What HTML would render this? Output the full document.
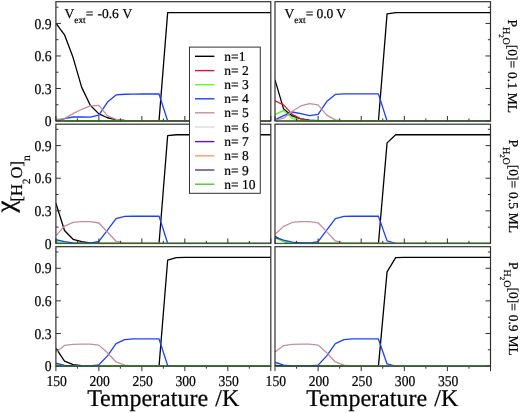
<!DOCTYPE html>
<html><head><meta charset="utf-8"><title>Water cluster fractions vs temperature</title>
<style>html,body{margin:0;padding:0;background:#fff}svg{display:block;filter:blur(0.35px)}text{font-family:"Liberation Serif","DejaVu Serif",serif;fill:#000;stroke:#000;stroke-width:0.22px;text-rendering:geometricPrecision}</style>
</head><body>
<svg width="520" height="413" viewBox="0 0 520 413">
<rect x="0" y="0" width="520" height="413" fill="#ffffff"/>
<g>
<clipPath id="cp00"><rect x="55.9" y="1.7" width="214.9" height="120.3"/></clipPath>
<g clip-path="url(#cp00)" fill="none" stroke-linejoin="round" stroke-width="1.3">
<polyline stroke="#000000" points="55.9,23.11 64.5,34.82 73.09,57.59 81.69,87.4 90.28,105.17 98.88,113.85 107.48,117.75 116.07,119.59 124.67,120.35 133.26,120.57 141.86,120.67 150.46,120.67 159.05,120.67 167.65,12.6 176.24,12.6 184.84,12.6 193.44,12.6 202.03,12.6 210.63,12.6 219.22,12.6 227.82,12.6 236.42,12.6 245.01,12.6 253.61,12.6 262.2,12.6 270.8,12.6"/>
<polyline stroke="#d4183a" points="55.9,119.37 64.5,120.46 73.09,121 81.69,121 90.28,121 98.88,121 107.48,121 116.07,121 124.67,121 133.26,121 141.86,121 150.46,121 159.05,121 167.65,121 176.24,121 184.84,121 193.44,121 202.03,121 210.63,121 219.22,121 227.82,121 236.42,121 245.01,121 253.61,121 262.2,121 270.8,121"/>
<polyline stroke="#64f832" stroke-width="1.6" points="55.9,119.7 64.5,120.57 73.09,121 81.69,121 90.28,121 98.88,121 107.48,121 116.07,121 124.67,121 133.26,121 141.86,121 150.46,121 159.05,121 167.65,121 176.24,121 184.84,121 193.44,121 202.03,121 210.63,121 219.22,121 227.82,121 236.42,121 245.01,121 253.61,121 262.2,121 270.8,121"/>
<polyline stroke="#2040f4" points="55.9,120.57 64.5,118.62 73.09,116.99 81.69,116.99 90.28,117.1 98.88,115.04 107.48,102.03 116.07,94.88 124.67,94.23 133.26,94.12 141.86,94.01 150.46,94.01 159.05,94.01 167.65,121 176.24,121 184.84,121 193.44,121 202.03,121 210.63,121 219.22,121 227.82,121 236.42,121 245.01,121 253.61,121 262.2,121 270.8,121"/>
<polyline stroke="#c08fa0" points="55.9,119.7 64.5,118.62 73.09,113.63 81.69,109.29 90.28,105.93 98.88,105.44 107.48,115.91 116.07,119.37 124.67,120.57 133.26,121 141.86,121 150.46,121 159.05,121 167.65,121 176.24,121 184.84,121 193.44,121 202.03,121 210.63,121 219.22,121 227.82,121 236.42,121 245.01,121 253.61,121 262.2,121 270.8,121"/>
</g>
<g stroke="#303030" stroke-width="1.2" fill="none">
<rect x="55.9" y="1.7" width="214.9" height="119.3"/>
<path stroke-width="1" d="M55.9 121v-5M77.39 121v-2.6M98.88 121v-5M120.37 121v-2.6M141.86 121v-5M163.35 121v-2.6M184.84 121v-5M206.33 121v-2.6M227.82 121v-5M249.31 121v-2.6M270.8 121v-5M55.9 121h5M55.9 104.74h2.6M55.9 88.48h5M55.9 72.22h2.6M55.9 55.96h5M55.9 39.7h2.6M55.9 23.44h5M55.9 7.18h2.6"/>
</g>
<line x1="56.9" y1="121" x2="270.3" y2="121" stroke="#34682a" stroke-width="1.1"/>
</g>
<g>
<clipPath id="cp01"><rect x="275" y="1.7" width="215.5" height="120.3"/></clipPath>
<g clip-path="url(#cp01)" fill="none" stroke-linejoin="round" stroke-width="1.3">
<polyline stroke="#000000" points="275,79.81 283.62,109.08 292.24,115.91 300.86,118.94 309.48,120.13 318.1,120.67 326.72,120.89 335.34,121 343.96,121 352.58,121 361.2,121 369.82,121 378.44,121 387.06,13.9 395.68,12.6 404.3,12.6 412.92,12.6 421.54,12.6 430.16,12.6 438.78,12.6 447.4,12.6 456.02,12.6 464.64,12.6 473.26,12.6 481.88,12.6 490.5,12.6"/>
<polyline stroke="#d4183a" points="275,100.84 283.62,104.85 292.24,114.39 300.86,118.83 309.48,120.46 318.1,121 326.72,121 335.34,121 343.96,121 352.58,121 361.2,121 369.82,121 378.44,121 387.06,121 395.68,121 404.3,121 412.92,121 421.54,121 430.16,121 438.78,121 447.4,121 456.02,121 464.64,121 473.26,121 481.88,121 490.5,121"/>
<polyline stroke="#64f832" stroke-width="1.6" points="275,114.6 283.62,110.49 292.24,118.18 300.86,120.67 309.48,121 318.1,121 326.72,121 335.34,121 343.96,121 352.58,121 361.2,121 369.82,121 378.44,121 387.06,121 395.68,121 404.3,121 412.92,121 421.54,121 430.16,121 438.78,121 447.4,121 456.02,121 464.64,121 473.26,121 481.88,121 490.5,121"/>
<polyline stroke="#2040f4" points="275,119.81 283.62,115.58 292.24,112 300.86,113.63 309.48,115.58 318.1,114.39 326.72,101.6 335.34,94.44 343.96,93.9 352.58,93.9 361.2,93.9 369.82,93.9 378.44,93.9 387.06,121 395.68,121 404.3,121 412.92,121 421.54,121 430.16,121 438.78,121 447.4,121 456.02,121 464.64,121 473.26,121 481.88,121 490.5,121"/>
<polyline stroke="#c08fa0" points="275,120.13 283.62,118.18 292.24,111.24 300.86,105.93 309.48,103.66 318.1,104.85 326.72,115.15 335.34,119.81 343.96,120.78 352.58,121 361.2,121 369.82,121 378.44,121 387.06,121 395.68,121 404.3,121 412.92,121 421.54,121 430.16,121 438.78,121 447.4,121 456.02,121 464.64,121 473.26,121 481.88,121 490.5,121"/>
</g>
<g stroke="#303030" stroke-width="1.2" fill="none">
<rect x="275" y="1.7" width="215.5" height="119.3"/>
<path stroke-width="1" d="M275 121v-5M296.55 121v-2.6M318.1 121v-5M339.65 121v-2.6M361.2 121v-5M382.75 121v-2.6M404.3 121v-5M425.85 121v-2.6M447.4 121v-5M468.95 121v-2.6M490.5 121v-5M490.5 121h-5M490.5 104.74h-2.6M490.5 88.48h-5M490.5 72.22h-2.6M490.5 55.96h-5M490.5 39.7h-2.6M490.5 23.44h-5M490.5 7.18h-2.6"/>
</g>
<line x1="276" y1="121" x2="490" y2="121" stroke="#34682a" stroke-width="1.1"/>
</g>
<g>
<clipPath id="cp10"><rect x="55.9" y="124.2" width="214.9" height="120.25"/></clipPath>
<g clip-path="url(#cp10)" fill="none" stroke-linejoin="round" stroke-width="1.3">
<polyline stroke="#000000" points="55.9,203.23 64.5,230.51 73.09,239.32 81.69,241.71 90.28,242.8 98.88,243.23 107.48,243.45 116.07,243.45 124.67,243.45 133.26,243.45 141.86,243.45 150.46,243.45 159.05,243.45 167.65,135.62 176.24,134.75 184.84,134.75 193.44,134.75 202.03,134.75 210.63,134.75 219.22,134.75 227.82,134.75 236.42,134.75 245.01,134.75 253.61,134.75 262.2,134.75 270.8,134.75"/>
<polyline stroke="#d4183a" points="55.9,242.15 64.5,243.12 73.09,243.45 81.69,243.45 90.28,243.45 98.88,243.45 107.48,243.45 116.07,243.45 124.67,243.45 133.26,243.45 141.86,243.45 150.46,243.45 159.05,243.45 167.65,243.45 176.24,243.45 184.84,243.45 193.44,243.45 202.03,243.45 210.63,243.45 219.22,243.45 227.82,243.45 236.42,243.45 245.01,243.45 253.61,243.45 262.2,243.45 270.8,243.45"/>
<polyline stroke="#64f832" stroke-width="1.6" points="55.9,242.15 64.5,243.12 73.09,243.45 81.69,243.45 90.28,243.45 98.88,243.45 107.48,243.45 116.07,243.45 124.67,243.45 133.26,243.45 141.86,243.45 150.46,243.45 159.05,243.45 167.65,243.45 176.24,243.45 184.84,243.45 193.44,243.45 202.03,243.45 210.63,243.45 219.22,243.45 227.82,243.45 236.42,243.45 245.01,243.45 253.61,243.45 262.2,243.45 270.8,243.45"/>
<polyline stroke="#2040f4" points="55.9,239.75 64.5,241.71 73.09,242.8 81.69,243.12 90.28,243.12 98.88,241.28 107.48,230.08 116.07,218.56 124.67,216.38 133.26,216.27 141.86,216.27 150.46,216.27 159.05,216.27 167.65,243.23 176.24,243.45 184.84,243.45 193.44,243.45 202.03,243.45 210.63,243.45 219.22,243.45 227.82,243.45 236.42,243.45 245.01,243.45 253.61,243.45 262.2,243.45 270.8,243.45"/>
<polyline stroke="#c08fa0" points="55.9,235.62 64.5,226.17 73.09,222.47 81.69,221.71 90.28,221.71 98.88,223.01 107.48,232.04 116.07,241.28 124.67,242.91 133.26,243.45 141.86,243.45 150.46,243.45 159.05,243.45 167.65,243.45 176.24,243.45 184.84,243.45 193.44,243.45 202.03,243.45 210.63,243.45 219.22,243.45 227.82,243.45 236.42,243.45 245.01,243.45 253.61,243.45 262.2,243.45 270.8,243.45"/>
</g>
<g stroke="#303030" stroke-width="1.2" fill="none">
<rect x="55.9" y="124.2" width="214.9" height="119.25"/>
<path stroke-width="1" d="M55.9 243.45v-5M77.39 243.45v-2.6M98.88 243.45v-5M120.37 243.45v-2.6M141.86 243.45v-5M163.35 243.45v-2.6M184.84 243.45v-5M206.33 243.45v-2.6M227.82 243.45v-5M249.31 243.45v-2.6M270.8 243.45v-5M55.9 243.45h5M55.9 227.14h2.6M55.9 210.84h5M55.9 194.53h2.6M55.9 178.23h5M55.9 161.92h2.6M55.9 145.62h5M55.9 129.31h2.6"/>
</g>
<line x1="56.9" y1="243.45" x2="270.3" y2="243.45" stroke="#34682a" stroke-width="1.1"/>
</g>
<g>
<clipPath id="cp11"><rect x="275" y="124.2" width="215.5" height="120.25"/></clipPath>
<g clip-path="url(#cp11)" fill="none" stroke-linejoin="round" stroke-width="1.3">
<polyline stroke="#000000" points="275,236.38 283.62,241.28 292.24,242.8 300.86,243.23 309.48,243.45 318.1,243.45 326.72,243.45 335.34,243.45 343.96,243.45 352.58,243.45 361.2,243.45 369.82,243.45 378.44,243.45 387.06,142.9 395.68,134.75 404.3,134.75 412.92,134.75 421.54,134.75 430.16,134.75 438.78,134.75 447.4,134.75 456.02,134.75 464.64,134.75 473.26,134.75 481.88,134.75 490.5,134.75"/>
<polyline stroke="#d4183a" points="275,236.93 283.62,241.28 292.24,242.91 300.86,243.45 309.48,243.45 318.1,243.45 326.72,243.45 335.34,243.45 343.96,243.45 352.58,243.45 361.2,243.45 369.82,243.45 378.44,243.45 387.06,243.45 395.68,243.45 404.3,243.45 412.92,243.45 421.54,243.45 430.16,243.45 438.78,243.45 447.4,243.45 456.02,243.45 464.64,243.45 473.26,243.45 481.88,243.45 490.5,243.45"/>
<polyline stroke="#64f832" stroke-width="1.6" points="275,238.01 283.62,241.28 292.24,243.02 300.86,243.45 309.48,243.45 318.1,243.45 326.72,243.45 335.34,243.45 343.96,243.45 352.58,243.45 361.2,243.45 369.82,243.45 378.44,243.45 387.06,243.45 395.68,243.45 404.3,243.45 412.92,243.45 421.54,243.45 430.16,243.45 438.78,243.45 447.4,243.45 456.02,243.45 464.64,243.45 473.26,243.45 481.88,243.45 490.5,243.45"/>
<polyline stroke="#2040f4" points="275,237.47 283.62,240.19 292.24,242.04 300.86,243.02 309.48,243.02 318.1,241.71 326.72,230.08 335.34,218.56 343.96,216.38 352.58,216.27 361.2,216.27 369.82,216.27 378.44,216.22 387.06,240.84 395.68,243.45 404.3,243.45 412.92,243.45 421.54,243.45 430.16,243.45 438.78,243.45 447.4,243.45 456.02,243.45 464.64,243.45 473.26,243.45 481.88,243.45 490.5,243.45"/>
<polyline stroke="#c08fa0" points="275,234.43 283.62,226.38 292.24,222.47 300.86,221.6 309.48,221.71 318.1,222.8 326.72,231.6 335.34,240.95 343.96,242.91 352.58,243.45 361.2,243.45 369.82,243.45 378.44,243.45 387.06,243.45 395.68,243.45 404.3,243.45 412.92,243.45 421.54,243.45 430.16,243.45 438.78,243.45 447.4,243.45 456.02,243.45 464.64,243.45 473.26,243.45 481.88,243.45 490.5,243.45"/>
</g>
<g stroke="#303030" stroke-width="1.2" fill="none">
<rect x="275" y="124.2" width="215.5" height="119.25"/>
<path stroke-width="1" d="M275 243.45v-5M296.55 243.45v-2.6M318.1 243.45v-5M339.65 243.45v-2.6M361.2 243.45v-5M382.75 243.45v-2.6M404.3 243.45v-5M425.85 243.45v-2.6M447.4 243.45v-5M468.95 243.45v-2.6M490.5 243.45v-5M490.5 243.45h-5M490.5 227.14h-2.6M490.5 210.84h-5M490.5 194.53h-2.6M490.5 178.23h-5M490.5 161.92h-2.6M490.5 145.62h-5M490.5 129.31h-2.6"/>
</g>
<line x1="276" y1="243.45" x2="490" y2="243.45" stroke="#34682a" stroke-width="1.1"/>
</g>
<g>
<clipPath id="cp20"><rect x="55.9" y="246.7" width="214.9" height="120.4"/></clipPath>
<g clip-path="url(#cp20)" fill="none" stroke-linejoin="round" stroke-width="1.3">
<polyline stroke="#000000" points="55.9,348.16 64.5,361.15 73.09,364.58 81.69,365.56 90.28,365.99 98.88,366.1 107.48,366.1 116.07,366.1 124.67,366.1 133.26,366.1 141.86,366.1 150.46,366.1 159.05,366.1 167.65,260.23 176.24,257.62 184.84,257.4 193.44,257.4 202.03,257.4 210.63,257.4 219.22,257.4 227.82,257.4 236.42,257.4 245.01,257.4 253.61,257.4 262.2,257.4 270.8,257.4"/>
<polyline stroke="#d4183a" points="55.9,365.23 64.5,365.88 73.09,366.1 81.69,366.1 90.28,366.1 98.88,366.1 107.48,366.1 116.07,366.1 124.67,366.1 133.26,366.1 141.86,366.1 150.46,366.1 159.05,366.1 167.65,366.1 176.24,366.1 184.84,366.1 193.44,366.1 202.03,366.1 210.63,366.1 219.22,366.1 227.82,366.1 236.42,366.1 245.01,366.1 253.61,366.1 262.2,366.1 270.8,366.1"/>
<polyline stroke="#64f832" stroke-width="1.6" points="55.9,365.23 64.5,365.88 73.09,366.1 81.69,366.1 90.28,366.1 98.88,366.1 107.48,366.1 116.07,366.1 124.67,366.1 133.26,366.1 141.86,366.1 150.46,366.1 159.05,366.1 167.65,366.1 176.24,366.1 184.84,366.1 193.44,366.1 202.03,366.1 210.63,366.1 219.22,366.1 227.82,366.1 236.42,366.1 245.01,366.1 253.61,366.1 262.2,366.1 270.8,366.1"/>
<polyline stroke="#2040f4" points="55.9,363.06 64.5,365.34 73.09,365.88 81.69,365.99 90.28,365.88 98.88,364.8 107.48,355.88 116.07,343.6 124.67,339.69 133.26,338.93 141.86,338.93 150.46,338.93 159.05,338.93 167.65,365.56 176.24,366.1 184.84,366.1 193.44,366.1 202.03,366.1 210.63,366.1 219.22,366.1 227.82,366.1 236.42,366.1 245.01,366.1 253.61,366.1 262.2,366.1 270.8,366.1"/>
<polyline stroke="#c08fa0" points="55.9,352.3 64.5,345.45 73.09,344.36 81.69,344.14 90.28,344.14 98.88,345.12 107.48,352.73 116.07,361.97 124.67,365.12 133.26,366.1 141.86,366.1 150.46,366.1 159.05,366.1 167.65,366.1 176.24,366.1 184.84,366.1 193.44,366.1 202.03,366.1 210.63,366.1 219.22,366.1 227.82,366.1 236.42,366.1 245.01,366.1 253.61,366.1 262.2,366.1 270.8,366.1"/>
</g>
<g stroke="#303030" stroke-width="1.2" fill="none">
<rect x="55.9" y="246.7" width="214.9" height="119.4"/>
<path stroke-width="1" d="M55.9 366.1v5M77.39 366.1v2.6M98.88 366.1v5M120.37 366.1v2.6M141.86 366.1v5M163.35 366.1v2.6M184.84 366.1v5M206.33 366.1v2.6M227.82 366.1v5M249.31 366.1v2.6M270.8 366.1v5M55.9 366.1h5M55.9 349.8h2.6M55.9 333.49h5M55.9 317.19h2.6M55.9 300.88h5M55.9 284.58h2.6M55.9 268.27h5M55.9 251.97h2.6"/>
</g>
<line x1="56.9" y1="366.1" x2="270.3" y2="366.1" stroke="#34682a" stroke-width="1.1"/>
</g>
<g>
<clipPath id="cp21"><rect x="275" y="246.7" width="215.5" height="120.4"/></clipPath>
<g clip-path="url(#cp21)" fill="none" stroke-linejoin="round" stroke-width="1.3">
<polyline stroke="#000000" points="275,365.45 283.62,365.88 292.24,366.1 300.86,366.1 309.48,366.1 318.1,366.1 326.72,366.1 335.34,366.1 343.96,366.1 352.58,366.1 361.2,366.1 369.82,366.1 378.44,366.1 387.06,271.86 395.68,257.62 404.3,257.4 412.92,257.4 421.54,257.4 430.16,257.4 438.78,257.4 447.4,257.4 456.02,257.4 464.64,257.4 473.26,257.4 481.88,257.4 490.5,257.4"/>
<polyline stroke="#2040f4" points="275,362.19 283.62,365.12 292.24,365.88 300.86,365.99 309.48,365.88 318.1,365.12 326.72,355.88 335.34,343.6 343.96,339.69 352.58,338.93 361.2,338.93 369.82,338.93 378.44,338.93 387.06,363.93 395.68,366.1 404.3,366.1 412.92,366.1 421.54,366.1 430.16,366.1 438.78,366.1 447.4,366.1 456.02,366.1 464.64,366.1 473.26,366.1 481.88,366.1 490.5,366.1"/>
<polyline stroke="#c08fa0" points="275,351.97 283.62,345.56 292.24,344.36 300.86,344.03 309.48,344.03 318.1,345.12 326.72,352.73 335.34,361.97 343.96,365.12 352.58,366.1 361.2,366.1 369.82,366.1 378.44,366.1 387.06,366.1 395.68,366.1 404.3,366.1 412.92,366.1 421.54,366.1 430.16,366.1 438.78,366.1 447.4,366.1 456.02,366.1 464.64,366.1 473.26,366.1 481.88,366.1 490.5,366.1"/>
</g>
<g stroke="#303030" stroke-width="1.2" fill="none">
<rect x="275" y="246.7" width="215.5" height="119.4"/>
<path stroke-width="1" d="M275 366.1v5M296.55 366.1v2.6M318.1 366.1v5M339.65 366.1v2.6M361.2 366.1v5M382.75 366.1v2.6M404.3 366.1v5M425.85 366.1v2.6M447.4 366.1v5M468.95 366.1v2.6M490.5 366.1v5M490.5 366.1h-5M490.5 349.8h-2.6M490.5 333.49h-5M490.5 317.19h-2.6M490.5 300.88h-5M490.5 284.58h-2.6M490.5 268.27h-5M490.5 251.97h-2.6"/>
</g>
<line x1="276" y1="366.1" x2="490" y2="366.1" stroke="#34682a" stroke-width="1.1"/>
</g>
<g font-size="15.0" text-anchor="end">
<text transform="translate(51.5 126.1) scale(0.91 1)">0</text>
<text transform="translate(51.5 93.58) scale(0.91 1)">0.3</text>
<text transform="translate(51.5 61.06) scale(0.91 1)">0.6</text>
<text transform="translate(51.5 28.54) scale(0.91 1)">0.9</text>
<text transform="translate(51.5 248.55) scale(0.91 1)">0</text>
<text transform="translate(51.5 215.94) scale(0.91 1)">0.3</text>
<text transform="translate(51.5 183.33) scale(0.91 1)">0.6</text>
<text transform="translate(51.5 150.72) scale(0.91 1)">0.9</text>
<text transform="translate(51.5 371.2) scale(0.91 1)">0</text>
<text transform="translate(51.5 338.59) scale(0.91 1)">0.3</text>
<text transform="translate(51.5 305.98) scale(0.91 1)">0.6</text>
<text transform="translate(51.5 273.37) scale(0.91 1)">0.9</text>
</g>
<g font-size="15.0" text-anchor="middle">
<text transform="translate(56.7 385.8) scale(0.91 1)">150</text>
<text transform="translate(99.68 385.8) scale(0.91 1)">200</text>
<text transform="translate(142.66 385.8) scale(0.91 1)">250</text>
<text transform="translate(185.64 385.8) scale(0.91 1)">300</text>
<text transform="translate(228.62 385.8) scale(0.91 1)">350</text>
<text transform="translate(275.8 385.8) scale(0.91 1)">150</text>
<text transform="translate(318.9 385.8) scale(0.91 1)">200</text>
<text transform="translate(362 385.8) scale(0.91 1)">250</text>
<text transform="translate(405.1 385.8) scale(0.91 1)">300</text>
<text transform="translate(448.2 385.8) scale(0.91 1)">350</text>
</g>
<g font-size="24" word-spacing="1.2" text-anchor="middle">
<text x="163.2" y="406">Temperature /K</text>
<text x="382.2" y="406">Temperature /K</text>
</g>
<text x="64.6" y="17.7" word-spacing="0.7" font-size="13.5">V<tspan dy="5" font-size="9.3">ext</tspan><tspan dy="-5">= -0.6 V</tspan></text>
<text x="284.6" y="17.7" word-spacing="-0.2" font-size="13.5">V<tspan dy="5" font-size="9.3">ext</tspan><tspan dy="-5">= 0.0 V</tspan></text>
<text transform="translate(14.2 212.4) rotate(-90)" font-size="27">χ</text>
<text transform="translate(22 201.4) rotate(-90)" font-size="16.5">[H<tspan dy="7.5" font-size="11">2</tspan><tspan dy="-7.5">O]</tspan><tspan dy="7.5" font-size="11.5">n</tspan></text>
<text transform="translate(508.3 19.4) rotate(90)" word-spacing="0.5" font-size="13.5">P<tspan dy="5.6" font-size="10">H<tspan dy="3.6" font-size="6.8">2</tspan><tspan dy="-3.6">O</tspan></tspan><tspan dy="-5.6">[0]= 0.1 ML</tspan></text>
<text transform="translate(508.8 139.4) rotate(90)" word-spacing="0.5" font-size="13.5">P<tspan dy="5.6" font-size="10">H<tspan dy="3.6" font-size="6.8">2</tspan><tspan dy="-3.6">O</tspan></tspan><tspan dy="-5.6">[0]= 0.5 ML</tspan></text>
<text transform="translate(509.4 262.1) rotate(90)" word-spacing="0.5" font-size="13.5">P<tspan dy="5.6" font-size="10">H<tspan dy="3.6" font-size="6.8">2</tspan><tspan dy="-3.6">O</tspan></tspan><tspan dy="-5.6">[0]= 0.9 ML</tspan></text>
<g>
<rect x="189.5" y="47.1" width="70.8" height="146.2" fill="#fff" stroke="#333" stroke-width="1"/>
<line x1="195" y1="56.3" x2="214.4" y2="56.3" stroke="#000000" stroke-width="1.4"/>
<text x="224.3" y="60.9" font-size="13.5">n=1</text>
<line x1="195" y1="70.6" x2="214.4" y2="70.6" stroke="#d4183a" stroke-width="1.4"/>
<text x="224.3" y="75.2" font-size="13.5">n= 2</text>
<line x1="195" y1="84.7" x2="214.4" y2="84.7" stroke="#64f832" stroke-width="1.4"/>
<text x="224.3" y="89.3" font-size="13.5">n= 3</text>
<line x1="195" y1="98.8" x2="214.4" y2="98.8" stroke="#2040f4" stroke-width="1.4"/>
<text x="224.3" y="103.4" font-size="13.5">n= 4</text>
<line x1="195" y1="112.8" x2="214.4" y2="112.8" stroke="#c08fa0" stroke-width="1.4"/>
<text x="224.3" y="117.4" font-size="13.5">n= 5</text>
<line x1="195" y1="127" x2="214.4" y2="127" stroke="#dcdcdc" stroke-width="1.4"/>
<text x="224.3" y="131.6" font-size="13.5">n= 6</text>
<line x1="195" y1="141.6" x2="214.4" y2="141.6" stroke="#5a18b8" stroke-width="1.4"/>
<text x="224.3" y="146.2" font-size="13.5">n= 7</text>
<line x1="195" y1="155.8" x2="214.4" y2="155.8" stroke="#f0a070" stroke-width="1.4"/>
<text x="224.3" y="160.4" font-size="13.5">n= 8</text>
<line x1="195" y1="170" x2="214.4" y2="170" stroke="#56387c" stroke-width="1.4"/>
<text x="224.3" y="174.6" font-size="13.5">n= 9</text>
<line x1="195" y1="184.2" x2="214.4" y2="184.2" stroke="#48c82a" stroke-width="1.4"/>
<text x="224.3" y="188.8" font-size="13.5">n= 10</text>
</g>
</svg>
</body></html>
